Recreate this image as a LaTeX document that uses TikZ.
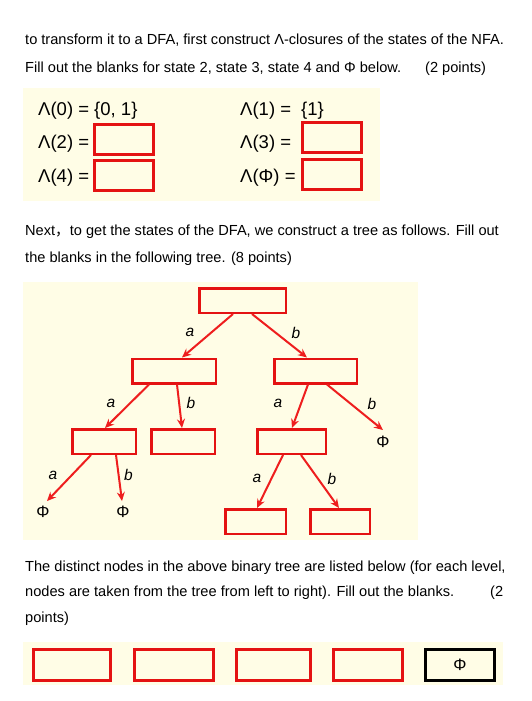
\documentclass[tikz,border=0pt]{standalone}
\usepackage{fontspec}
\setmainfont{Liberation Sans}
\newfontfamily\cjk{Noto Sans CJK SC}
\usetikzlibrary{arrows.meta}

\definecolor{paper}{RGB}{255,253,230}
\definecolor{boxred}{RGB}{228,18,18}
\definecolor{arrred}{RGB}{238,30,30}

\begin{document}
\begin{tikzpicture}[x=1pt, y=-1pt,
    >={Stealth[length=9pt, width=8pt, inset=3pt]},
    txt/.style={anchor=base west, inner sep=0pt, font=\fontsize{14.6}{17}\selectfont},
    eq/.style={anchor=base west, inner sep=0pt, font=\fontsize{18.5}{21}\selectfont},
    blank/.style={draw=boxred, line width=3pt, inner sep=0pt,
                  minimum width=59pt, minimum height=30pt},
    tnode/.style={draw=boxred, line width=2.5pt, inner sep=0pt, minimum height=24.5pt},
    slot/.style={draw=boxred, line width=3pt, inner sep=0pt, minimum height=31pt,
                 font=\fontsize{16.5}{18}\selectfont},
    phi/.style={inner sep=2pt, font=\fontsize{16.5}{18}\selectfont},
    lbl/.style={inner sep=0pt, font=\fontsize{15.5}{17}\selectfont\itshape},
    trans/.style={->, draw=arrred, line width=2pt},
  ]
  \useasboundingbox (0,0) rectangle (532,701);
  \fill[white] (0,0) rectangle (532,701);

  % question text
  \node[txt] (q1) at (25,45) {to transform it to a DFA, first construct Λ-closures of the states of the NFA.};
  \node[txt] (q2) at (25,72) {Fill out the blanks for state 2, state 3, state 4 and Φ below.};
  \node[txt] (q2p) at (425,72) {(2 points)};

  % closures
  \fill[paper] (23,88) rectangle (380,201);
  \node[eq] (l0) at (38,115) {Λ(0) = \{0, 1\}};
  \node[eq] (l1) at (240,115) {Λ(1) = \hspace{5pt}\{1\}};
  \node[eq] (l2) at (38,148) {Λ(2) =};
  \node[eq] (l3) at (240,148) {Λ(3) =};
  \node[eq] (l4) at (38,182) {Λ(4) =};
  \node[eq] (lphi) at (240,182) {Λ(Φ) =};
  \node[blank] (c2) at (124,139.5) {};
  \node[blank] (c4) at (124,175.5) {};
  \node[blank] (c3) at (332,137) {};
  \node[blank] (cphi) at (332,174.5) {};

  \node[txt] (q3) at (25,235) {Next{\cjk ，}to get the states of the DFA, we construct a tree as follows. Fill out};
  \node[txt] (q4) at (25,262) {the blanks in the following tree. (8 points)};

  % tree
  \fill[paper] (23,282) rectangle (418,540);
  \node[tnode, minimum width=86.5pt] (root) at (242.5,300.5) {};
  \node[tnode, minimum width=83.5pt] (la) at (174,371) {};
  \node[tnode, minimum width=82.5pt] (lb) at (315.5,371) {};
  \node[tnode, minimum width=63.5pt] (laa) at (104,441.5) {};
  \node[tnode, minimum width=63.5pt] (lab) at (183,441.5) {};
  \node[tnode, minimum width=68.5pt] (lba) at (291.5,441.5) {};
  \node[phi] (lbb) at (383,442) {Φ};
  \node[phi] (laaa) at (43,512) {Φ};
  \node[phi] (laab) at (123,512) {Φ};
  \node[tnode, minimum width=60.5pt] (lbaa) at (255.5,521.5) {};
  \node[tnode, minimum width=59.5pt] (lbab) at (340,521.5) {};

  \draw[trans] ([xshift=-9.5pt]root.south) -- ([xshift=8pt]la.north)
       node[lbl, midway, xshift=-17.5pt, yshift=3pt] {a};
  \draw[trans] ([xshift=9.5pt]root.south) -- ([xshift=-8.5pt]lb.north)
       node[lbl, midway, xshift=16.5pt, yshift=3pt] {b};
  \draw[trans] ([xshift=-25pt]la.south) -- ([xshift=1pt]laa.north)
       node[lbl, midway, xshift=-16pt, yshift=3pt] {a};
  \draw[trans] ([xshift=3pt]la.south) -- ([xshift=-1pt]lab.north)
       node[lbl, midway, xshift=11.5pt, yshift=3pt] {b};
  \draw[trans] ([xshift=-7.5pt]lb.south) -- ([xshift=0.5pt]lba.north)
       node[lbl, midway, xshift=-22pt, yshift=3pt] {a};
  \draw[trans] ([xshift=11.5pt]lb.south) -- ([yshift=4pt]lbb.north)
       node[lbl, midway, xshift=17pt, yshift=3pt] {b};
  \draw[trans] ([xshift=-13pt]laa.south) -- ([xshift=4pt, yshift=3pt]laaa.north)
       node[lbl, midway, xshift=-16pt, yshift=3pt] {a};
  \draw[trans] ([xshift=12pt]laa.south) -- ([xshift=-1pt, yshift=3pt]laab.north)
       node[lbl, midway, xshift=9.5pt, yshift=3pt] {b};
  \draw[trans] ([xshift=-8.5pt]lba.south) -- ([xshift=1.5pt]lbaa.north)
       node[lbl, midway, xshift=-13pt, yshift=3pt] {a};
  \draw[trans] ([xshift=9.5pt]lba.south) -- ([xshift=-1pt]lbab.north)
       node[lbl, midway, xshift=12pt, yshift=3pt] {b};

  \node[txt] (q5) at (25,571) {The distinct nodes in the above binary tree are listed below (for each level,};
  \node[txt] (q6) at (25,596) {nodes are taken from the tree from left to right). Fill out the blanks.};
  \node[txt] (q6p) at (490,596) {(2};
  \node[txt] (q7) at (25,622) {points)};

  % distinct nodes
  \fill[paper] (23,642) rectangle (503,685);
  \node[slot, minimum width=77pt] (d1) at (72,665) {};
  \node[slot, minimum width=79pt] (d2) at (174,665) {};
  \node[slot, minimum width=74pt] (d3) at (273.5,665) {};
  \node[slot, minimum width=69pt] (d4) at (368,665) {};
  \node[slot, draw=black, minimum width=69pt] (d5) at (460,665) {Φ};
\end{tikzpicture}
\end{document}
